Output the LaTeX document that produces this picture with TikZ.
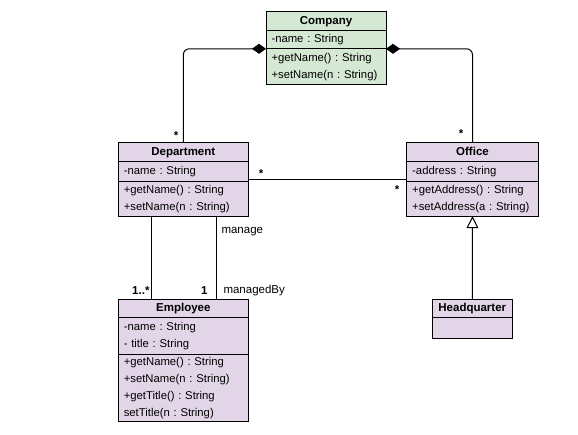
\documentclass[tikz,border=0pt]{standalone}
\usepackage{fontspec}
\setmainfont{Liberation Sans}
\usepackage{xcolor}
\usetikzlibrary{positioning, arrows.meta}
\definecolor{classfill}{HTML}{E1D5E7}
\definecolor{mainfill}{HTML}{D5E8D4}
\frenchspacing
\tikzstyle{classname} = [rectangle, draw=black, fill=classfill, font=\fontsize{11.5}{17}\selectfont\bfseries, inner sep=0pt, outer sep=0pt, minimum height=18.5pt, text height=8.2pt, text depth=1.6pt]
\tikzstyle{classbody} = [rectangle, draw=black, fill=classfill, font=\fontsize{11.3}{17}\selectfont, align=left, inner xsep=5.5pt, inner ysep=0pt, outer sep=0pt]
\tikzstyle{mult} = [font=\fontsize{11.5}{14}\selectfont\bfseries, inner sep=1pt]
\tikzstyle{role} = [font=\fontsize{11.5}{14}\selectfont, inner sep=1pt, anchor=west]
\tikzstyle{composition} = [-{Diamond[length=14pt,width=10pt]}, rounded corners=6pt]
\tikzstyle{inherit} = [-{Triangle[open,length=12pt,width=12pt]}]

\begin{document}
\begin{tikzpicture}[x=1pt, y=-1pt, line width=1pt]
    \useasboundingbox (0,0) rectangle (578,435);

    % Company
    \node (compName) [classname, fill=mainfill, minimum width=120pt, anchor=north] at (326,11.7) {Company};
    \node (compAttr) [classbody, fill=mainfill, text width=109pt, minimum height=18.6pt, below=0pt of compName] {-name : String};
    \node (compMeth) [classbody, fill=mainfill, text width=109pt, minimum height=35.7pt, below=0pt of compAttr] {+getName() : String\\+setName(n : String)};

    % Department
    \node (deptName) [classname, minimum width=130pt, anchor=north] at (183.3,142.7) {Department};
    \node (deptAttr) [classbody, text width=119pt, minimum height=20pt, below=0pt of deptName] {-name : String};
    \node (deptMeth) [classbody, text width=119pt, minimum height=35pt, below=0pt of deptAttr] {+getName() : String\\+setName(n : String)};

    % Office
    \node (officeName) [classname, minimum width=131.6pt, anchor=north] at (472.5,142.7) {Office};
    \node (officeAttr) [classbody, text width=120.6pt, minimum height=20pt, below=0pt of officeName] {-address : String};
    \node (officeMeth) [classbody, text width=120.6pt, minimum height=35pt, below=0pt of officeAttr] {+getAddress() : String\\+setAddress(a : String)};

    % Employee
    \node (empName) [classname, minimum width=130pt, anchor=north] at (183.3,299.3) {Employee};
    \node (empAttr) [classbody, text width=119pt, minimum height=36.6pt, below=0pt of empName] {-name : String\\- title : String};
    \node (empMeth) [classbody, text width=119pt, minimum height=67.4pt, below=0pt of empAttr] {+getName() : String\\+setName(n : String)\\+getTitle() : String\\setTitle(n : String)};

    % Headquarter
    \node (hqName) [classname, minimum width=80pt, anchor=north] at (472.3,299.3) {Headquarter};
    \node (hqAttr) [classbody, minimum width=80pt, minimum height=20.6pt, below=0pt of hqName] {};

    \draw [composition] (deptName.north) |- (compMeth.north west);
    \draw [composition] (officeName.north) |- (compMeth.north east);
    \draw ([yshift=1.7pt]deptAttr.south east) -- ([yshift=1.7pt]officeAttr.south west);
    \draw ([xshift=33.4pt]deptMeth.south west) -- ([xshift=33.4pt]empName.north west);
    \draw ([xshift=98.4pt]deptMeth.south west) -- ([xshift=98.4pt]empName.north west);
    \draw [inherit] (hqName.north) -- (officeMeth.south);

    % multiplicities and roles
    \node (mDeptTop) [mult] at (176,136) {*};
    \node (mOfficeTop) [mult] at (461,134) {*};
    \node (mDeptRight) [mult] at (261,174) {*};
    \node (mOfficeLeft) [mult] at (397,190) {*};
    \node (mEmpMany) [mult, anchor=east] at (151,291) {1..*};
    \node (mEmpOne) [mult, anchor=east] at (209,291) {1};
    \node (rManage) [role] at (220,232) {manage};
    \node (rManagedBy) [role] at (222,291) {managedBy};
\end{tikzpicture}
\end{document}
